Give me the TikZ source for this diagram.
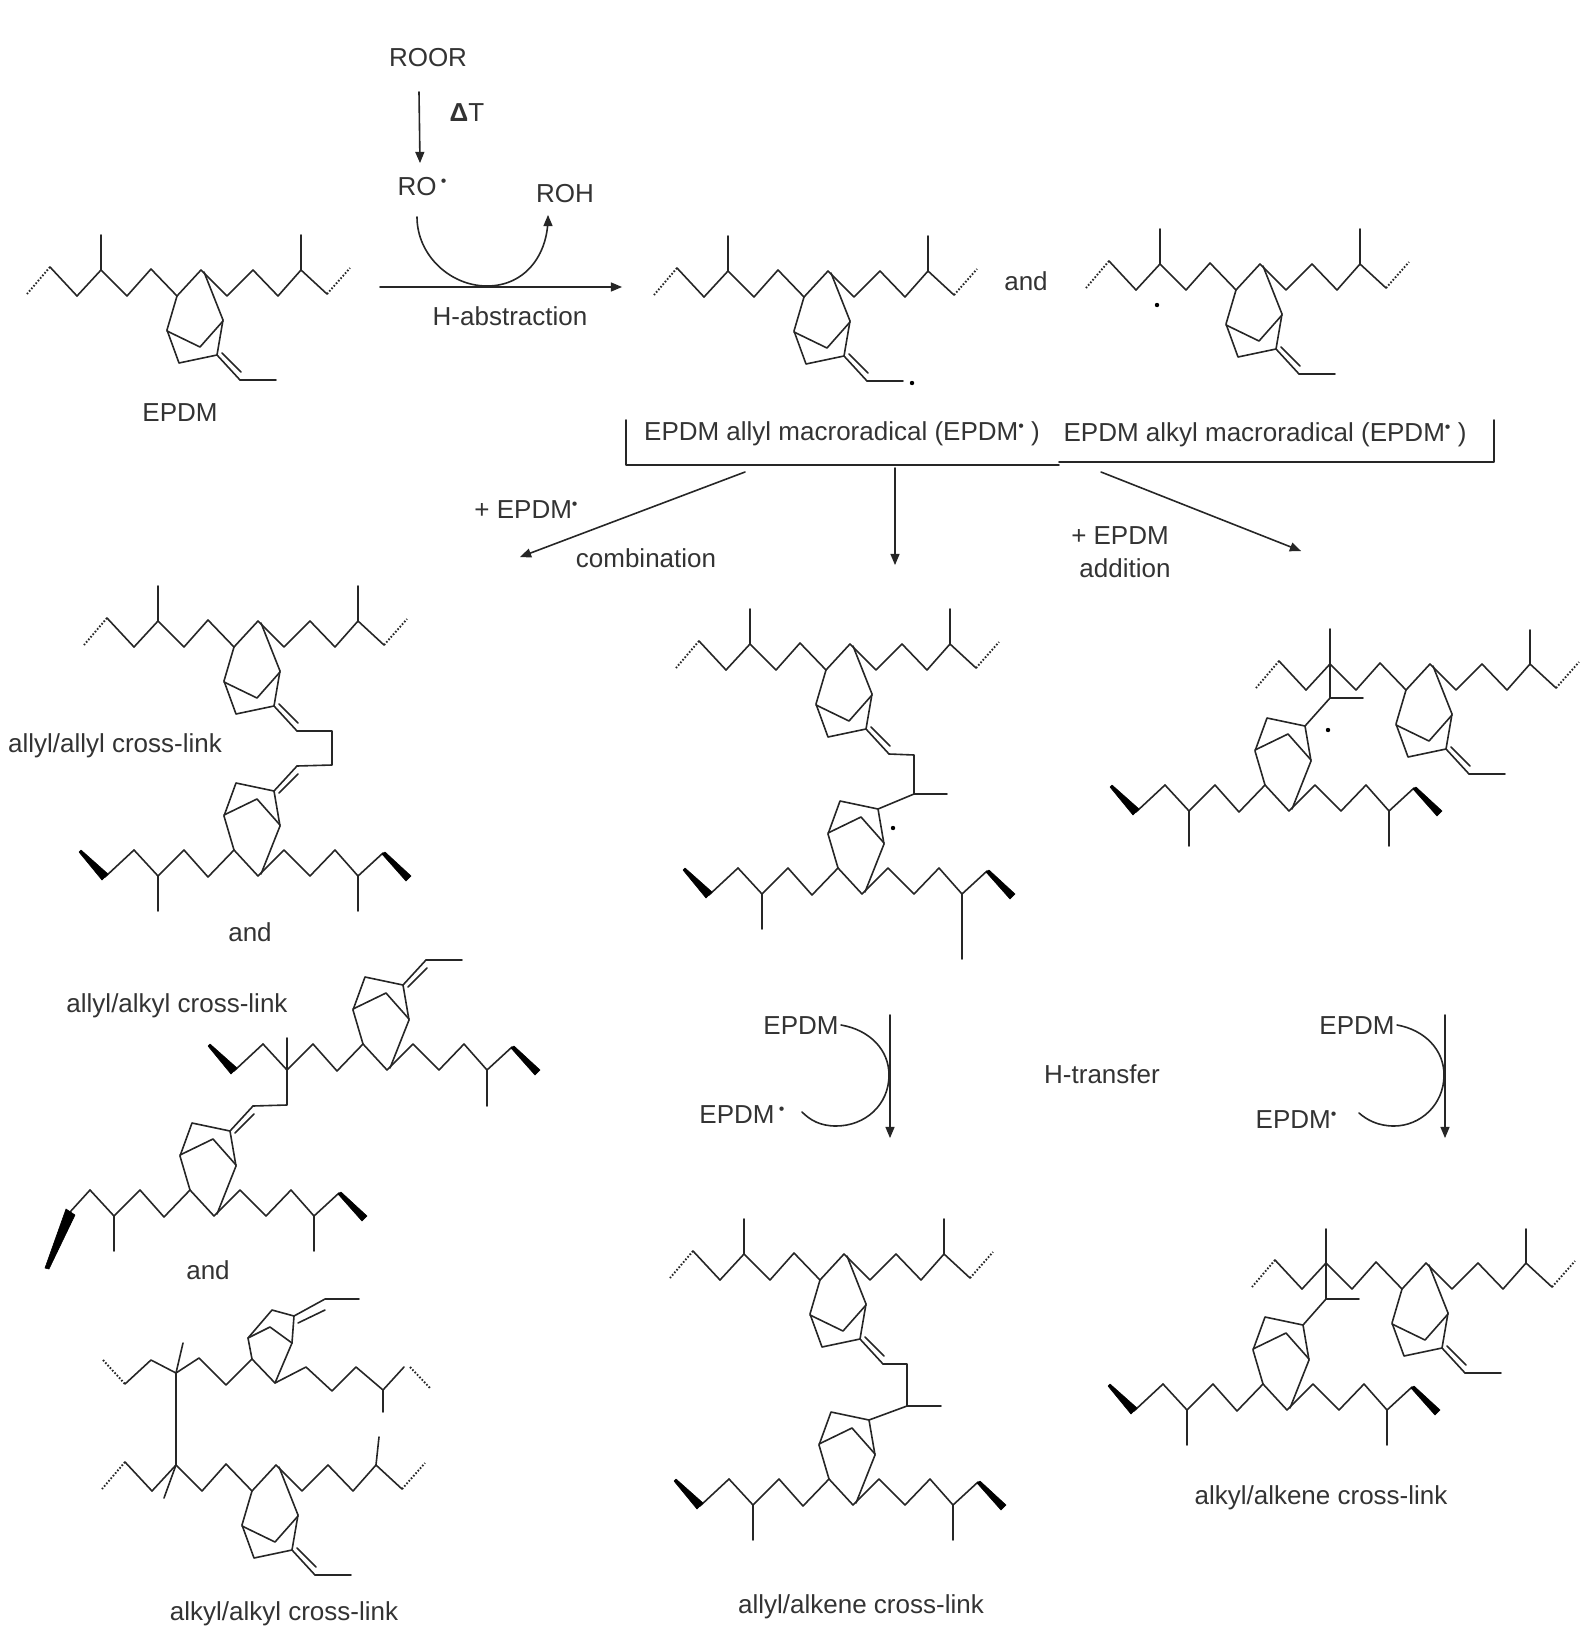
\documentclass[tikz,border=0pt]{standalone}
\usepackage{fontspec}
\setmainfont{Liberation Sans}
\usetikzlibrary{arrows}
\newcommand{\rdot}{\raisebox{9pt}{\fontsize{16}{16}\selectfont •}}

\begin{document}
\begin{tikzpicture}[line cap=round,line join=round,>=triangle 45,x=1pt,y=-1pt,
    bond/.style={line width=1.6pt,black!85},
    hashbond/.style={line width=1.9pt,black!85,line cap=butt,dash pattern=on 1.6pt off 1.8pt},
    wedgebond/.style={fill=black,draw=black,line width=0.6pt},
    chemtext/.style={font=\fontsize{26}{30}\selectfont,text=black!80,inner sep=0pt},
    pics/backbone/.style={code={
      \coordinate (-ml) at (-100,0);
      \coordinate (-mr) at (100,0);
      \draw[bond] (-124,26) -- (-100,0) -- (-74,26) -- (-50,-1) -- (-24,26) -- (0,0)
                  -- (26,26) -- (52,0) -- (77,26) -- (100,0);
    }},
    pics/cage/.style={code={
      \coordinate (-ex) at (16,85);
      \draw[bond] (-24,26) -- (-34,60) -- (-22,93) -- (16,85) -- (22,50) -- (3,2);
      \draw[bond] (-34,61) -- (-1,77) -- (22,51);
    }},
    pics/vinyl/.style={code={
      \coordinate (-v) at (39,110);
      \draw[bond] (16,85) -- (39,110);
      \draw[bond] (21,83) -- (40,102);
    }},
    pics/hashends/.style={code={
      \draw[bond] (-124,26) -- (-151,-3);
      \draw[hashbond] (-151,-3) -- (-174,24);
      \draw[bond] (100,0) -- (126,24);
      \draw[hashbond] (126,24) -- (149,-2);
    }},
    pics/wedgeleft/.style={code={
      \draw[bond] (-124,26) -- (-153,-1);
      \fill[wedgebond] (-179,24) -- (-177,26) -- (-150,2) -- (-156,-4) -- cycle;
    }},
    pics/wedgeright/.style={code={
      \draw[bond] (100,0) -- (125,23);
      \fill[wedgebond] (127,24) -- (124,22) -- (148,-5) -- (153,0) -- cycle;
    }}]
  \useasboundingbox (0,0) rectangle (1592,1637);

  % chains with the cage hanging down
  \foreach \nm/\bx/\by in {epdm/201/270,allyl/828/271,alkyl/1260/264,aa/258/621,
                           ae/850/644,ke/1430/664,aef/844/1254,kef/1426/1263,kk/276/1465}{
    \pic (\nm) at (\bx,\by) {backbone};
    \pic at (\bx,\by) {hashends};
    \pic (\nm c) at (\bx,\by) {cage};
  }
  % chains with the cage standing up
  \foreach \nm/\bx/\by in {ab/258/876,ac/387/1070,ad/214/1216,af/862/894,kg/1289/811,
                           afb/853/1505,kfb/1287/1410}{
    \pic[yscale=-1] (\nm) at (\bx,\by) {backbone};
    \pic[yscale=-1] at (\bx,\by) {wedgeright};
    \pic[yscale=-1] (\nm c) at (\bx,\by) {cage};
  }
  \foreach \bx/\by in {258/876,387/1070,862/894,1289/811,853/1505,1287/1410}{
    \pic[yscale=-1] at (\bx,\by) {wedgeleft};
  }
  \draw[bond] (90,1190) -- (70,1212);
  \fill[wedgebond] (45,1268) -- (49,1269) -- (75,1215) -- (66,1209) -- cycle;

  % exocyclic double bonds
  \foreach \bx/\by in {201/270,828/271,1260/264,1430/664,1426/1263,276/1465}{
    \pic at (\bx,\by) {vinyl};
    \draw[bond] (\bx+39,\by+110) -- ++(36,0);
  }
  \pic[yscale=-1] (abv) at (258,876) {vinyl};
  \pic[yscale=-1] (acv) at (387,1070) {vinyl};
  \pic[yscale=-1] (adv) at (214,1216) {vinyl};
  \pic (aav) at (258,621) {vinyl};
  \pic (aev) at (850,644) {vinyl};
  \pic (aefv) at (844,1254) {vinyl};
  \draw[bond] (acv-v) -- ++(36,0);

  % methyl groups
  \foreach \nm in {epdm,allyl,alkyl,aa,ae,aef}{
    \draw[bond] (\nm-ml) -- ++(0,-35);
    \draw[bond] (\nm-mr) -- ++(0,-35);
  }
  \draw[bond] (ke-mr) -- ++(0,-34);
  \draw[bond] (kef-mr) -- ++(0,-34);
  \foreach \nm in {ab,ad,kg,afb,kfb}{
    \draw[bond] (\nm-ml) -- ++(0,35);
    \draw[bond] (\nm-mr) -- ++(0,35);
  }
  \draw[bond] (ac-mr) -- ++(0,36);
  \draw[bond] (af-ml) -- ++(0,35);
  \draw[bond] (af-mr) -- ++(0,65);

  % links between the chains
  \draw[bond] (aav-v) -- (332,731) -- (332,765) -- (abv-v);
  \draw[bond] (adv-v) -- (287,1105) -- (ac-ml);
  \draw[bond] (ac-ml) -- ++(0,-32);
  \draw[bond] (aev-v) -- (914,755) -- (914,794) -- (afc-ex);
  \draw[bond] (914,794) -- (947,794);
  \draw[bond] (aefv-v) -- (907,1364) -- (907,1406) -- (afbc-ex);
  \draw[bond] (907,1406) -- (941,1406);
  \draw[bond] (ke-ml) -- ++(0,-35);
  \draw[bond] (ke-ml) -- (1330,698) -- (kgc-ex);
  \draw[bond] (1330,698) -- (1363,698);
  \draw[bond] (kef-ml) -- ++(0,-34);
  \draw[bond] (kef-ml) -- (1326,1299) -- (kfbc-ex);
  \draw[bond] (1326,1299) -- (1359,1299);

  % alkyl/alkyl, upper chain is squeezed
  \draw[hashbond] (103,1360) -- (125,1384);
  \draw[bond] (125,1384) -- (151,1360) -- (176,1373) -- (199,1358) -- (226,1385) -- (252,1359)
              -- (275,1383) -- (306,1367) -- (332,1391) -- (356,1367) -- (383,1390) -- (404,1367);
  \draw[hashbond] (410,1367) -- (430,1388);
  \draw[bond] (383,1390) -- (383,1412);
  \draw[bond] (183,1343) -- (176,1373) -- (kk-ml) -- (164,1498);
  \draw[bond] (kk-mr) ++(3,-28) -- (kk-mr);
  \draw[bond] (252,1359) -- (248,1338) -- (272,1310) -- (294,1316) -- (292,1343) -- (275,1383);
  \draw[bond] (248,1338) -- (270,1327) -- (292,1343);
  \draw[bond] (294,1316) -- (325,1299) -- (359,1299);
  \draw[bond] (298,1323) -- (325,1310);

  % radical dots
  \fill (912,383) circle (2.2);
  \fill (1157,305) circle (2.2);
  \fill (893,828) circle (2.2);
  \fill (1328,730) circle (2.2);

  % labels
  \node[chemtext] (roor) at (428,58) {ROOR};
  \node[chemtext] (heat) at (467,113) {\textbf{Δ}T};
  \node[chemtext] (ro) at (422,187) {RO\,\rdot};
  \node[chemtext] (roh) at (565,194) {ROH};
  \node[chemtext] (habs) at (510,316) {H-abstraction};
  \node[chemtext] (epdmlbl) at (180,413) {EPDM};
  \node[chemtext] (and1) at (1026,281) {and};
  \node[chemtext] (allyllbl) at (842,434) {EPDM allyl macroradical (EPDM\rdot\ )};
  \node[chemtext] (alkyllbl) at (1265,435) {EPDM alkyl macroradical (EPDM\rdot\ )};
  \node[chemtext] (plusa) at (526,510) {+ EPDM\rdot};
  \node[chemtext] (comb) at (646,558) {combination};
  \node[chemtext] (plusb) at (1120,536) {+ EPDM};
  \node[chemtext] (addn) at (1125,568) {addition};
  \node[chemtext] (aalbl) at (115,746) {allyl/allyl cross-link};
  \node[chemtext] (and2) at (250,932) {and};
  \node[chemtext] (aklbl) at (177,1006) {allyl/alkyl cross-link};
  \node[chemtext] (and3) at (208,1270) {and};
  \node[chemtext] (kklbl) at (284,1614) {alkyl/alkyl cross-link};
  \node[chemtext] (aelbl) at (861,1607) {allyl/alkene cross-link};
  \node[chemtext] (kelbl) at (1321,1498) {alkyl/alkene cross-link};
  \node[chemtext] (htr) at (1102,1074) {H-transfer};
  \node[chemtext] (hda) at (801,1026) {EPDM};
  \node[chemtext] (rda) at (742,1115) {EPDM\,\rdot};
  \node[chemtext] (hdb) at (1357,1026) {EPDM};
  \node[chemtext] (rdb) at (1296,1120) {EPDM\rdot};

  % free ends of the arrows
  \coordinate (roa) at (419,92);
  \coordinate (rob) at (420,163);
  \coordinate (absa) at (380,287);
  \coordinate (absb) at (622,287);
  \coordinate (crva) at (417,217);
  \coordinate (crvb) at (548,215);
  \coordinate (brka) at (626,420);
  \coordinate (brkb) at (1059,465);
  \coordinate (brkc) at (1059,462);
  \coordinate (brkd) at (1494,420);
  \coordinate (spla) at (745,472);
  \coordinate (splb) at (520,557);
  \coordinate (splc) at (895,468);
  \coordinate (spld) at (895,565);
  \coordinate (sple) at (1101,472);
  \coordinate (splf) at (1301,551);
  \coordinate (trna) at (890,1015);
  \coordinate (trnb) at (890,1138);
  \coordinate (trnc) at (1445,1015);
  \coordinate (trnd) at (1445,1138);

  \draw[bond,->] (roa) -- (rob);
  \draw[bond,->] (absa) -- (absb);
  \draw[bond,->] (crva) .. controls (417,255) and (450,286) .. (487,286)
                 .. controls (525,286) and (548,255) .. (crvb);
  \draw[bond] (brka) -- (626,465) -- (brkb);
  \draw[bond] (brkc) -- (1494,462) -- (brkd);
  \draw[bond,->] (spla) -- (splb);
  \draw[bond,->] (splc) -- (spld);
  \draw[bond,->] (sple) -- (splf);
  \draw[bond,->] (trna) -- (trnb);
  \draw[bond,->] (trnc) -- (trnd);
  \draw[bond] (841,1025) .. controls (870,1030) and (889,1050) .. (889,1075)
              .. controls (889,1105) and (865,1126) .. (836,1126)
              .. controls (820,1126) and (810,1120) .. (802,1112);
  \draw[bond] (1397,1025) .. controls (1425,1030) and (1444,1050) .. (1444,1075)
              .. controls (1444,1105) and (1420,1126) .. (1394,1126)
              .. controls (1378,1126) and (1367,1120) .. (1359,1113);
\end{tikzpicture}
\end{document}
